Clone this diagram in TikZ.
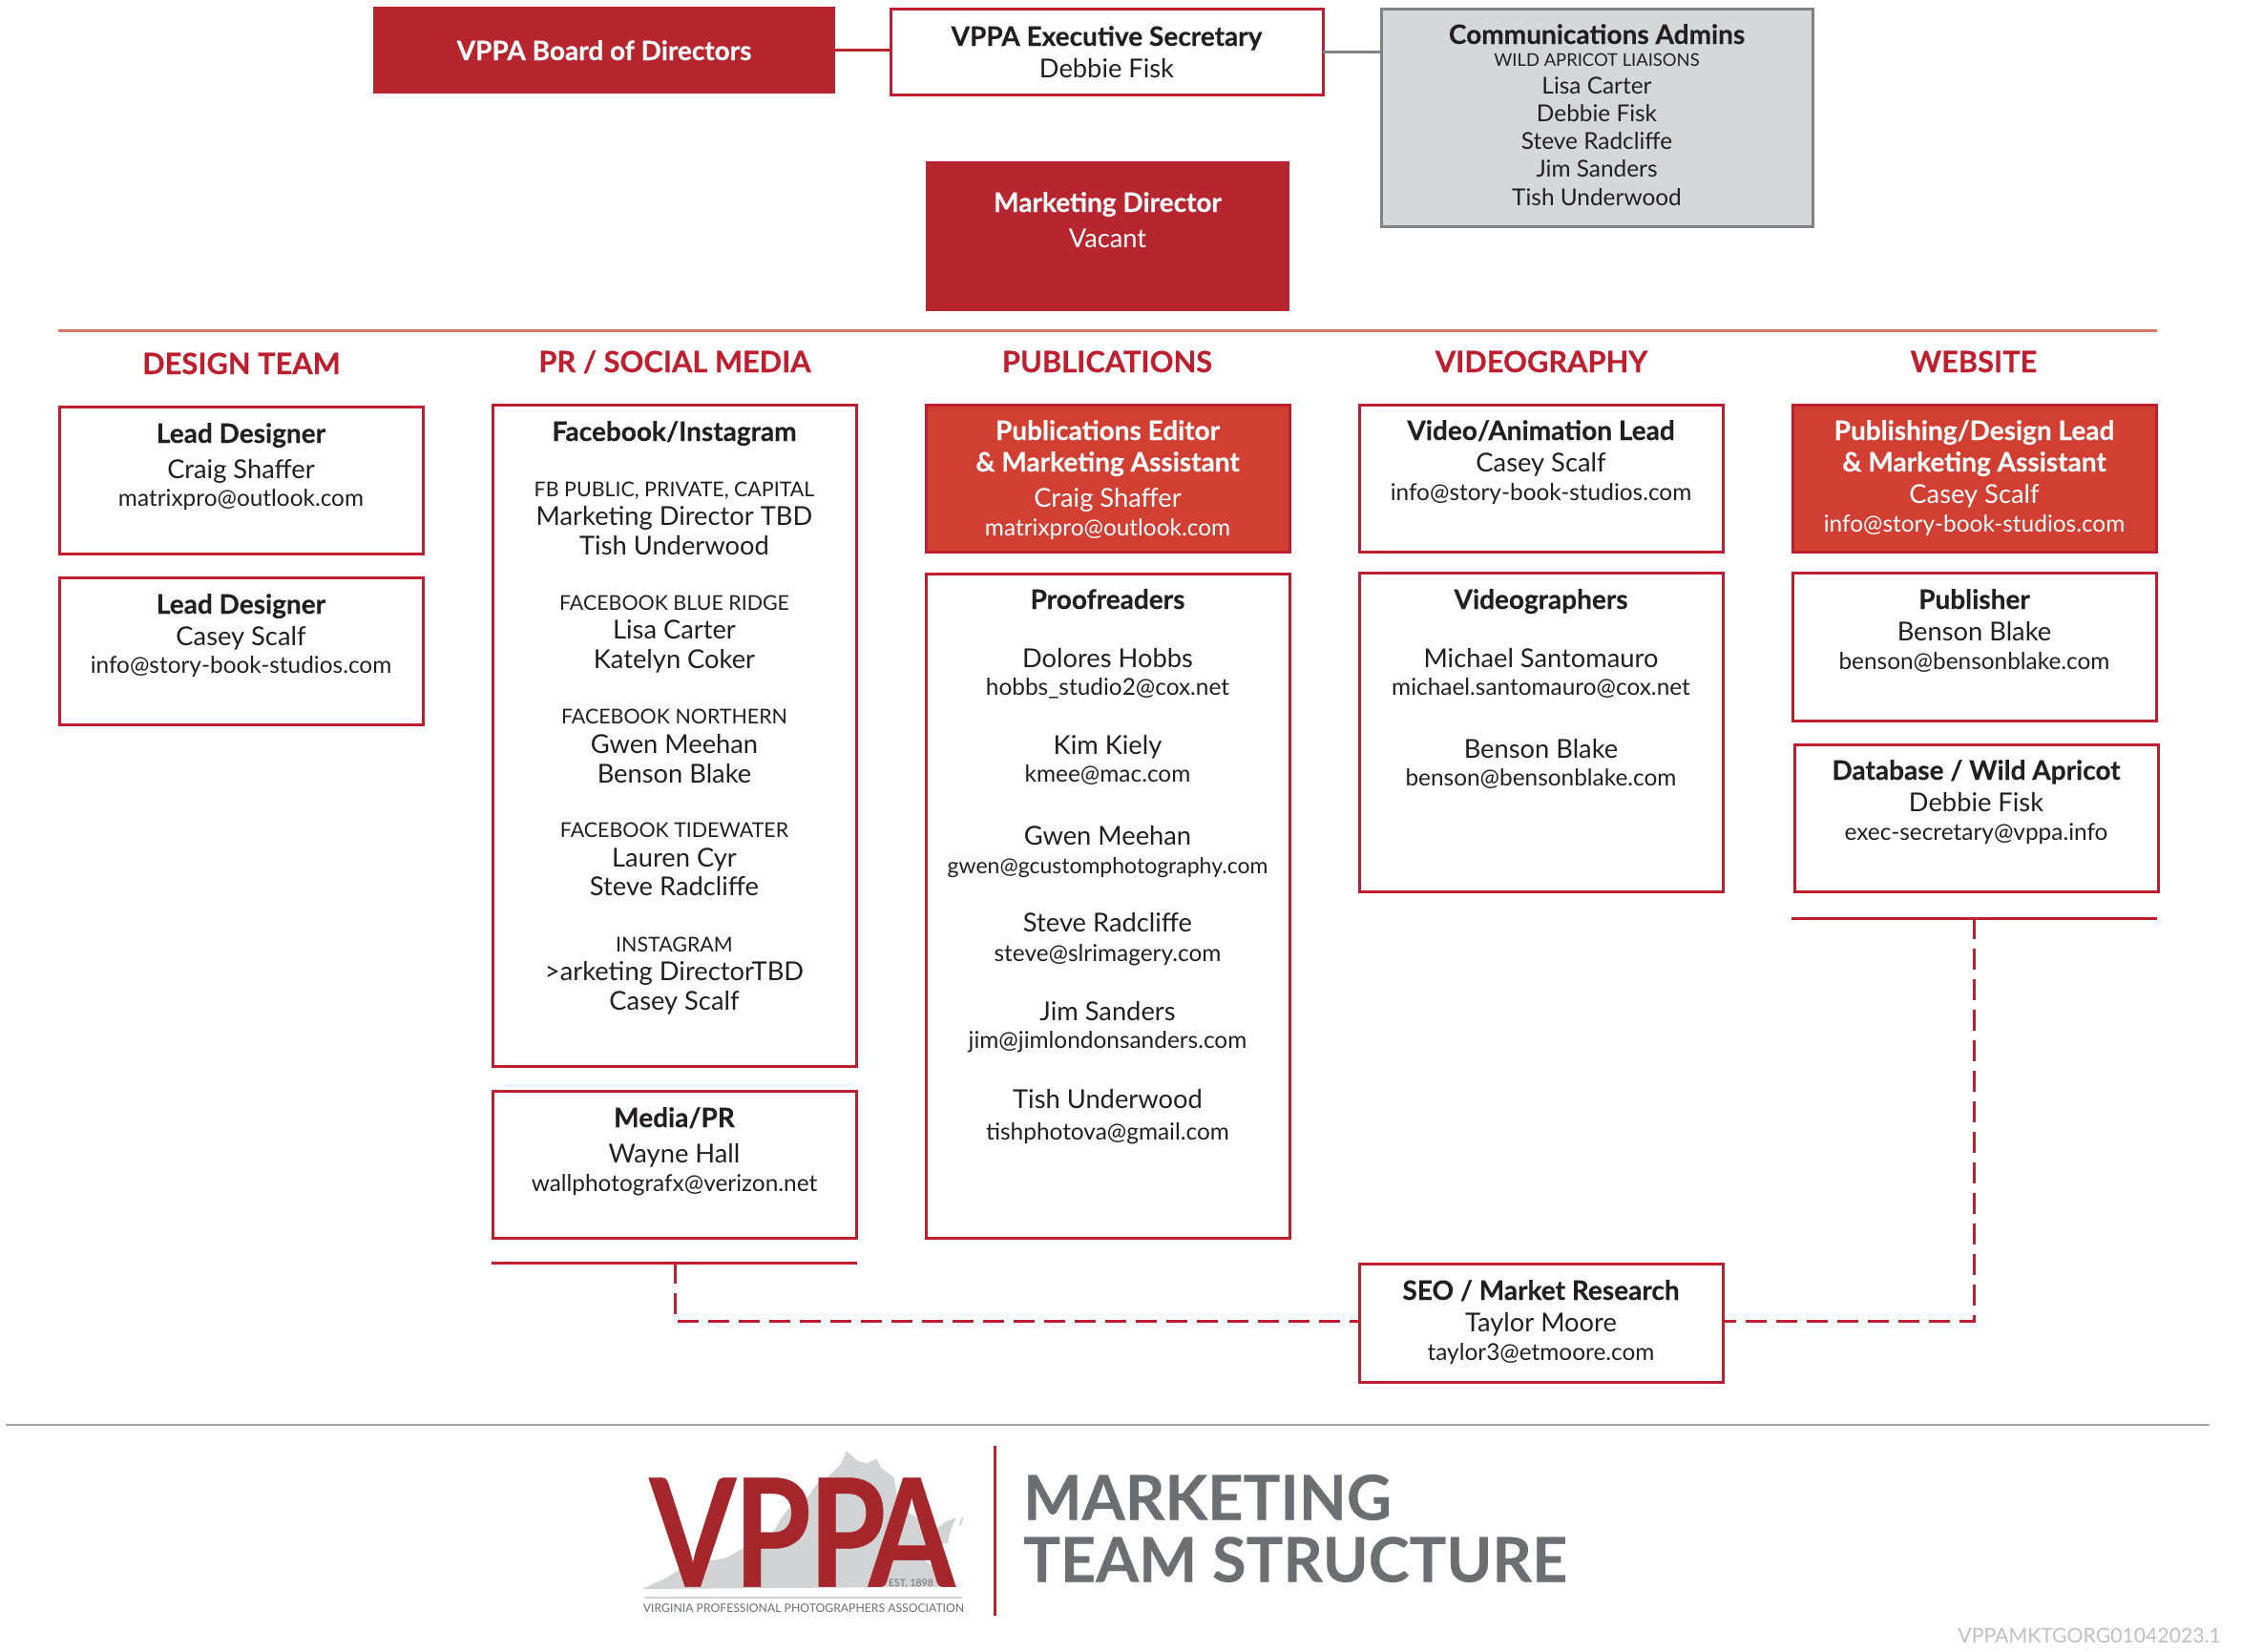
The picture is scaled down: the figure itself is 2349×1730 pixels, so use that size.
\documentclass[tikz,border=0pt]{standalone}
\usepackage{fontspec}
\setmainfont{Lato}[BoldFeatures={FakeBold=0.3}]
\definecolor{boardred}{HTML}{B7252F}
\definecolor{linered}{HTML}{BE1E2D}
\definecolor{leadred}{HTML}{D13F33}
\definecolor{rulesalmon}{HTML}{D8776A}
\definecolor{adminfill}{HTML}{D5D8DA}
\definecolor{admingray}{HTML}{808285}
\definecolor{inkblack}{HTML}{231F20}
\definecolor{footgray}{HTML}{6D6E71}
\definecolor{mapgray}{HTML}{D1D3D4}
\definecolor{logored}{HTML}{A5272C}
\newcommand{\boxbody}[3]{\vbox to #2pt{\hsize=#1pt\centering\parskip=0pt\lineskiplimit=-1000pt\prevdepth=0pt #3\vfill}}
\newcommand{\roleline}[3][28]{{\fontsize{#1}{#2pt}\selectfont\bfseries #3\par}}
\newcommand{\nameline}[3][27.3]{{\fontsize{#1}{#2pt}\selectfont #3\par}}
\newcommand{\mailline}[3][24.4]{{\fontsize{#1}{#2pt}\selectfont #3\par}}
\newcommand{\capsline}[2]{{\fontsize{21.4}{#1pt}\selectfont #2\par}}
\tikzset{
  whitebox/.style={draw=linered,line width=3pt,fill=white,anchor=north west,inner sep=0pt,outer sep=0pt,text=inkblack},
  leadbox/.style={whitebox,fill=leadred,text=white},
  darkbox/.style={whitebox,draw=none,fill=boardred,text=white},
  adminbox/.style={whitebox,draw=admingray,fill=adminfill},
  teamhead/.style={anchor=base,text=linered,font=\fontsize{30.8}{31}\selectfont\bfseries},
  dashline/.style={linered,line width=3pt,dash pattern=on 22pt off 10pt},
}
\begin{document}
\begin{tikzpicture}[x=1pt,y=-1pt]
\useasboundingbox (0,0) rectangle (2349,1730);

\node (board) at (391,7) [darkbox]{\boxbody{484}{91}{\roleline{56}{VPPA Board of Directors}}};
\node (exec) at (933,9) [whitebox]{\boxbody{453}{90}{\roleline{39}{VPPA Executive Secretary}\nameline{33}{Debbie Fisk}}};
\node (comm) at (1447,9) [adminbox]{\boxbody{452}{228}{\roleline{37}{Communications Admins}\nameline[18.4]{23}{WILD APRICOT LIAISONS}\nameline[24.4]{29}{Lisa Carter}\nameline[24.4]{29}{Debbie Fisk}\nameline[24.4]{29}{Steve Radcliffe}\nameline[24.4]{29}{Jim Sanders}\nameline[24.4]{30}{Tish Underwood}}};
\node (director) at (970,169) [darkbox]{\boxbody{381}{157}{\roleline{53}{Marketing Director}\nameline{37}{Vacant}}};

\draw[boardred,line width=3pt] (board.east)--(board.east -| exec.west);
\draw[admingray,line width=3pt] (exec.east)--(exec.east -| comm.west);

\coordinate (ruleleft) at (61,346);
\coordinate (ruleright) at (2260,346);
\draw[rulesalmon,line width=3pt] (ruleleft)--(ruleright);

\node (headdesign) at (253,392) [teamhead]{DESIGN TEAM};
\node (headpr) at (707,390) [teamhead]{PR / SOCIAL MEDIA};
\node (headpub) at (1160,390) [teamhead]{PUBLICATIONS};
\node (headvideo) at (1615,390) [teamhead]{VIDEOGRAPHY};
\node (headweb) at (2068,390) [teamhead]{WEBSITE};

\node (lead1) at (62,426) [whitebox]{\boxbody{381}{154}{\roleline{38}{Lead Designer}\nameline{37}{Craig Shaffer}\mailline{29}{matrixpro@outlook.com}}};
\node (lead2) at (62,605) [whitebox]{\boxbody{381}{154}{\roleline{38}{Lead Designer}\nameline{33}{Casey Scalf}\mailline{29}{info@story-book-studios.com}}};

\node (social) at (516,424) [whitebox]{\boxbody{381}{693}{\roleline{38}{Facebook/Instagram}
\capsline{58}{FB PUBLIC, PRIVATE, CAPITAL}\nameline{30}{Marketing Director TBD}\nameline{31}{Tish Underwood}
\capsline{58}{FACEBOOK BLUE RIDGE}\nameline{30}{Lisa Carter}\nameline{31}{Katelyn Coker}
\capsline{58}{FACEBOOK NORTHERN}\nameline{31}{Gwen Meehan}\nameline{31}{Benson Blake}
\capsline{57}{FACEBOOK TIDEWATER}\nameline{31}{Lauren Cyr}\nameline{30}{Steve Radcliffe}
\capsline{59}{INSTAGRAM}\nameline{30}{>arketing DirectorTBD}\nameline{31}{Casey Scalf}}};
\node (media) at (516,1143) [whitebox]{\boxbody{381}{154}{\roleline{38}{Media/PR}\nameline{37}{Wayne Hall}\mailline{30}{wallphotografx@verizon.net}}};

\node (editor) at (970,424) [leadbox]{\boxbody{381}{154}{\roleline{37}{Publications Editor}\roleline{33}{\& Marketing Assistant}\nameline{37}{Craig Shaffer}\mailline{30}{matrixpro@outlook.com}}};
\node (proof) at (970,601) [whitebox]{\boxbody{381}{696}{\roleline{37}{Proofreaders}
\nameline{61.5}{Dolores Hobbs}\mailline{28.5}{hobbs\_studio2@cox.net}
\nameline{62.5}{Kim Kiely}\mailline{28.5}{kmee@mac.com}
\nameline{66.5}{Gwen Meehan}\mailline[23]{29.5}{gwen@gcustomphotography.com}
\nameline{61.5}{Steve Radcliffe}\mailline{30.5}{steve@slrimagery.com}
\nameline{62.5}{Jim Sanders}\mailline{28.5}{jim@jimlondonsanders.com}
\nameline{63.5}{Tish Underwood}\mailline{32.5}{tishphotova@gmail.com}}};

\node (videolead) at (1424,424) [whitebox]{\boxbody{381}{154}{\roleline{37}{Video/Animation Lead}\nameline{33}{Casey Scalf}\mailline{30}{info@story-book-studios.com}}};
\node (videographers) at (1424,600) [whitebox]{\boxbody{381}{334}{\roleline{38}{Videographers}
\nameline{61}{Michael Santomauro}\mailline{29}{michael.santomauro@cox.net}
\nameline{66}{Benson Blake}\mailline{29}{benson@bensonblake.com}}};
\node (seo) at (1424,1324) [whitebox]{\boxbody{381}{124}{\roleline{38}{SEO / Market Research}\nameline{33}{Taylor Moore}\mailline{30}{taylor3@etmoore.com}}};

\node (publishing) at (1878,424) [leadbox]{\boxbody{381}{154}{\roleline{37}{Publishing/Design Lead}\roleline{33}{\& Marketing Assistant}\nameline{33}{Casey Scalf}\mailline{30}{info@story-book-studios.com}}};
\node (publisher) at (1878,600) [whitebox]{\boxbody{381}{155}{\roleline{38}{Publisher}\nameline{33}{Benson Blake}\mailline{30}{benson@bensonblake.com}}};
\node (database) at (1880,780) [whitebox]{\boxbody{381}{154}{\roleline{37}{Database / Wild Apricot}\nameline{33}{Debbie Fisk}\mailline{30}{exec-secretary@vppa.info}}};

\coordinate (prbar) at (707,1323);
\coordinate (prbarleft) at (515,1323);
\coordinate (prbarright) at (898,1323);
\coordinate (webbar) at (2068.5,962);
\coordinate (webbarleft) at (1877,962);
\coordinate (webbarright) at (2260,962);
\draw[linered,line width=3pt] (prbarleft)--(prbarright);
\draw[linered,line width=3pt] (webbarleft)--(webbarright);
\draw[dashline] (prbar)|-([yshift=1.5pt]seo.west);
\draw[dashline] (webbar)|-([yshift=1.5pt]seo.east);

\coordinate (footleft) at (6,1493);
\coordinate (footright) at (2315,1493);
\draw[gray!70,line width=2pt] (footleft)--(footright);

\begin{scope}[shift={(660,1510)},x=0.3333pt,y=-0.3333pt]
\fill[mapgray] (38,465)--(70,450)--(110,432)--(150,408)--(165,385)--(205,368)--(260,375)--(300,368)--(350,340)--(395,320)--(455,280)--(470,250)--(500,210)--(520,190)--(560,175)--(590,130)--(625,110)--(665,70)--(680,30)--(715,62)--(745,70)--(775,55)--(790,85)--(830,115)--(840,170)--(870,220)--(930,260)--(965,275)--(990,255)--(1025,240)--(1005,290)--(1000,320)--(975,325)--(950,320)--(920,370)--(960,400)--(1000,440)--(1030,458)--cycle;
\fill[mapgray] (1050,235)--(1042,262)--(1034,265)--(1040,245)--cycle;
\end{scope}
\node (letters) at (840.5,1662.7) [anchor=base,inner sep=0pt,text=logored]{\fontsize{158}{158}\selectfont\scalebox{0.827}[1]{\bfseries V\kern-3pt P\kern-3pt P\kern-22pt A}};
\node (est) at (954.5,1662.7) [anchor=base,inner sep=0pt,text=footgray]{\fontsize{10.5}{11}\selectfont EST. 1898};
\coordinate (logoleft) at (675,1674);
\coordinate (logoright) at (1008,1674);
\draw[gray!35,line width=1.5pt] (logoleft)--(logoright);
\node (assoc) at (842,1689) [anchor=base,inner sep=0pt,text=footgray]{\fontsize{12.2}{13}\selectfont VIRGINIA PROFESSIONAL PHOTOGRAPHERS ASSOCIATION};

\coordinate (bartop) at (1042,1515);
\coordinate (barbottom) at (1042,1693);
\draw[linered,line width=3pt] (bartop)--(barbottom);
\node (marketing) at (1072,1592.5) [anchor=base west,inner sep=0pt,text=footgray]{\fontsize{65}{65}\selectfont\bfseries MARKETING};
\node (structure) at (1072,1657.5) [anchor=base west,inner sep=0pt,text=footgray]{\fontsize{64.7}{65}\selectfont\bfseries TEAM STRUCTURE};
\node (version) at (2327,1721) [anchor=base east,inner sep=0pt,text=gray!50]{\fontsize{21.2}{22}\selectfont VPPAMKTGORG01042023.1};
\end{tikzpicture}
\end{document}
